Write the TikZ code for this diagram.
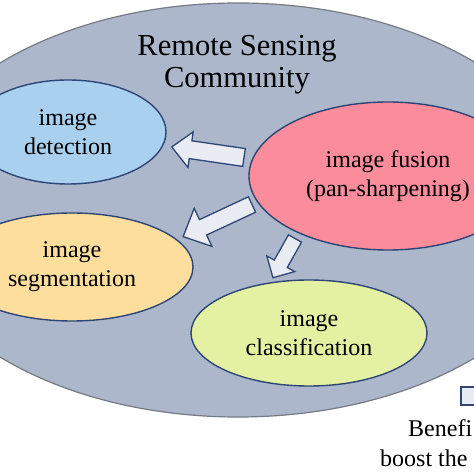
\documentclass[tikz,border=0pt]{standalone}
\usepackage{fontspec}
\setmainfont{Liberation Serif}
\usetikzlibrary{shapes.geometric}
\definecolor{bigfill}{HTML}{ACB7CB}
\definecolor{bigdraw}{HTML}{767A82}
\definecolor{navy}{HTML}{2E4675}
\definecolor{bluefill}{HTML}{A9D0EF}
\definecolor{pinkfill}{HTML}{FA8C9B}
\definecolor{orangefill}{HTML}{FEDE9C}
\definecolor{greenfill}{HTML}{E4F1A2}
\definecolor{arrowfill}{HTML}{E9ECF2}
\newcommand{\blockarr}[6]{%
  \begin{scope}[shift={#1}, rotate=#2]
    \draw[blockarrow] (0,-#4/2) -- ({#3-#6},-#4/2) -- ({#3-#6},-#5/2) -- (#3,0)
      -- ({#3-#6},#5/2) -- ({#3-#6},#4/2) -- (0,#4/2) -- cycle;
  \end{scope}}
\tikzset{
  topic/.style={ellipse, draw=navy, line width=1.4pt, inner sep=0pt, align=center,
    font=\fontsize{24}{29}\selectfont},
  blockarrow/.style={draw=navy, fill=arrowfill, line width=1.3pt, line join=miter},
  labeltext/.style={font=\fontsize{24}{29}\selectfont, inner sep=0pt, anchor=base west}
}
\begin{document}
\begin{tikzpicture}[x=1pt,y=1pt]
\useasboundingbox (0,0) rectangle (474,474);
\clip (0,0) rectangle (474,474);
\fill[white] (0,0) rectangle (474,474);
\node[ellipse, draw=bigdraw, fill=bigfill, line width=1.2pt, minimum width=676pt, minimum height=414pt, inner sep=0pt] (community) at (238,264) {};
\node[inner sep=0pt, align=center, font=\fontsize{30.5}{32}\selectfont] (title) at (237,409.5) {Remote Sensing\\Community};
\node[topic, fill=bluefill, minimum width=196pt, minimum height=104pt] (detection) at (68,342) {image\\detection};
\node[topic, fill=pinkfill, minimum width=278pt, minimum height=148pt] (fusion) at (388,298) {image fusion\\(pan-sharpening)};
\node[topic, fill=orangefill, minimum width=242pt, minimum height=108pt] (segmentation) at (72,207) {image\\segmentation};
\node[topic, fill=greenfill, minimum width=236pt, minimum height=106pt] (classification) at (309,141) {image\\classification};
\blockarr{(244,316.5)}{171.7}{73}{18}{36}{19}
\blockarr{(252,269.5)}{205}{76}{17}{42}{22}
\blockarr{(295,235.5)}{240.6}{45}{15}{32}{16}
\node[draw=navy, fill=arrowfill, line width=1.3pt, minimum width=20pt, minimum height=18pt, inner sep=0pt] (legendbox) at (471,78) {};
\node[labeltext] (benefit) at (408,37) {Benefi};
\node[labeltext] (boost) at (380,8) {boost the};
\end{tikzpicture}
\end{document}
